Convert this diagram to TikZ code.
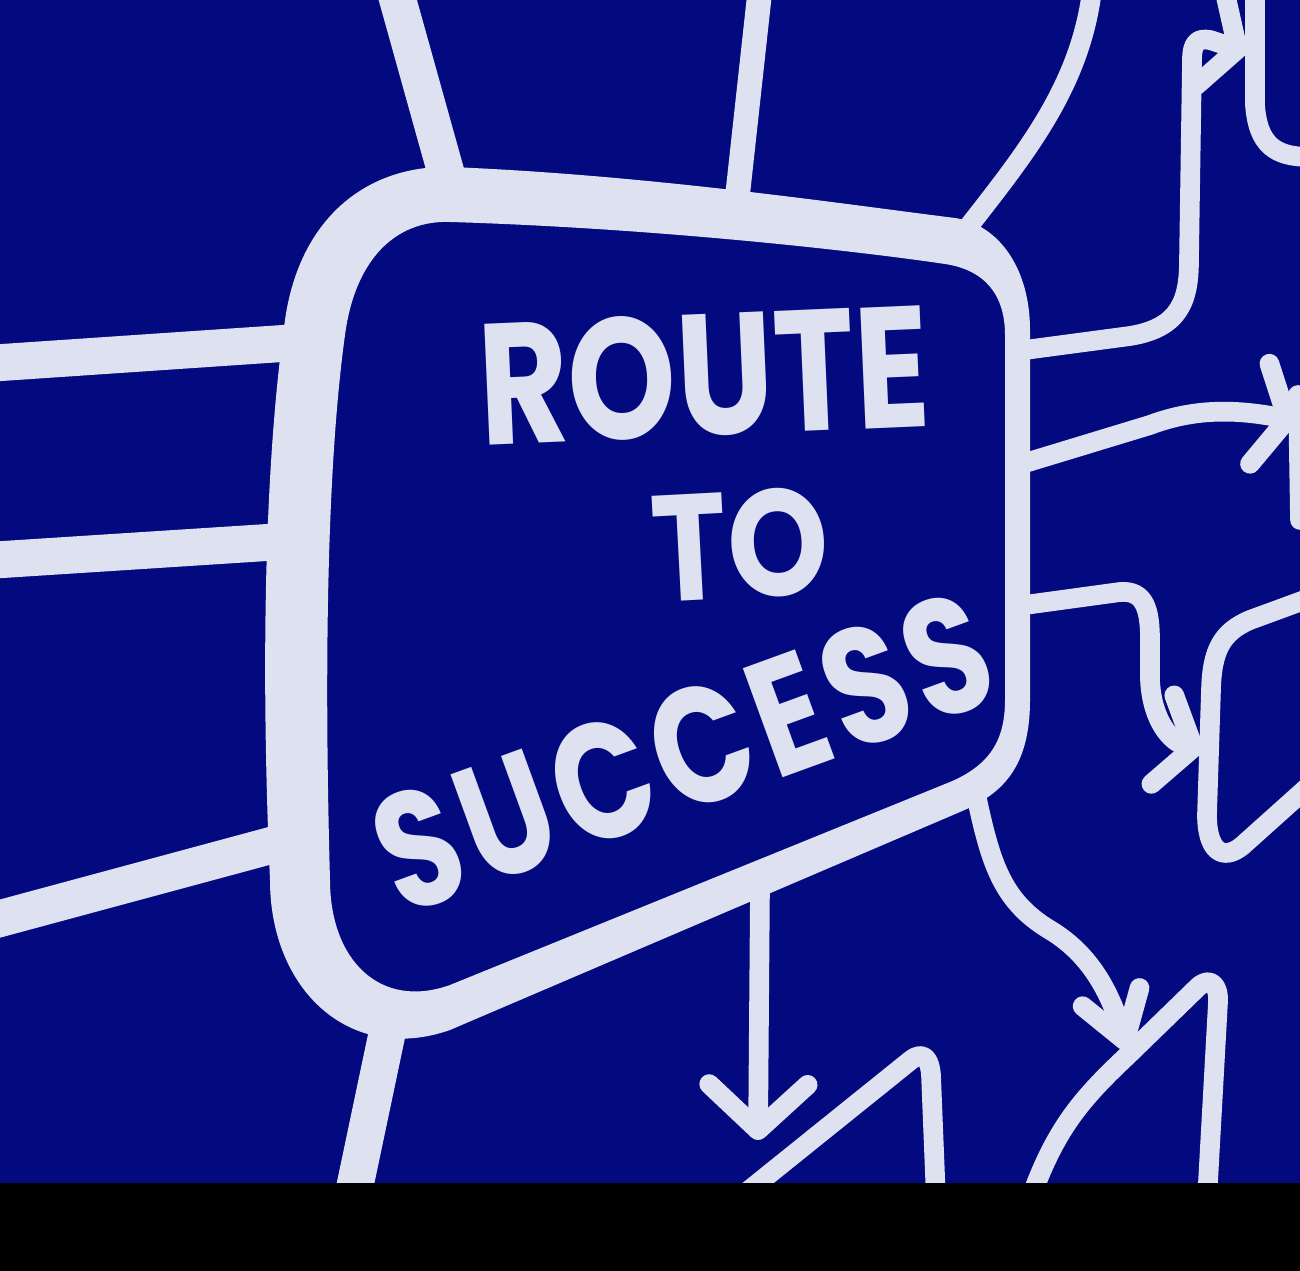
\documentclass[tikz,border=0pt]{standalone}
\usepackage{fontspec}
\newfontfamily\markerfont{Poppins}
\usetikzlibrary{arrows.meta, calc, positioning}
\definecolor{boardblue}{RGB}{3,10,127}
\definecolor{chalkwhite}{RGB}{222,225,240}
\tikzset{
	chalk/.style = {draw=chalkwhite, line cap=round, line join=round},
	spoke/.style = {chalk, line width=10.5pt},
	stem/.style = {chalk, line width=7pt},
	twig/.style = {chalk, line width=5.6pt},
	arr/.style 2 args = {twig, -{Straight Barb[length=#1, width=#2, round]}},
	word/.style = {text=chalkwhite, inner sep=0pt}
}

\begin{document}
\begin{tikzpicture}[x=0.01cm, y=-0.01cm]
	\useasboundingbox (0,0) rectangle (1300,1271);
	\fill[boardblue] (0,0) rectangle (1300,1183);
	\fill[black] (0,1183) rectangle (1300,1271);
	\clip (0,0) rectangle (1300,1183);

	% points on the box
	\coordinate (bW1) at (290,343);
	\coordinate (bW2) at (275,542);
	\coordinate (bW3) at (280,843);
	\coordinate (bS1) at (392,1010);
	\coordinate (bS2) at (760,885);
	\coordinate (bSE) at (975,790);
	\coordinate (bN1) at (448,180);
	\coordinate (bN2) at (737,200);
	\coordinate (bNE) at (962,235);
	\coordinate (bE1) at (1025,350);
	\coordinate (bE2) at (1025,463);
	\coordinate (bE3) at (1025,605);

	% free ends and arrow tips
	\coordinate (eW1) at (-20,364);
	\coordinate (eW2) at (-20,561);
	\coordinate (eW3) at (-20,924);
	\coordinate (eS1) at (352,1200);
	\coordinate (eN1) at (395,-10);
	\coordinate (eN2) at (760,-10);
	\coordinate (eNE) at (1092,-10);
	\coordinate (tipD) at (1247,52);
	\coordinate (tipE) at (1297,421);
	\coordinate (tipF) at (1203,750);
	\coordinate (tipG) at (1128,1050);
	\coordinate (tipH) at (758,1140);

	% plain spokes
	\draw[spoke] (bW1) -- (eW1);
	\draw[spoke] (bW2) -- (eW2);
	\draw[spoke] (bW3) -- (eW3);
	\draw[spoke] (bS1) -- (eS1);
	\draw[spoke] (bN1) -- (eN1);
	\draw[stem] (bN2) -- (eN2);
	\draw[twig] (bNE) .. controls (1020,160) and (1080,90) .. (eNE);

	% Central box
	\fill[chalkwhite, even odd rule]
		(270,880) .. controls (262,700) and (262,480) .. (285,320)
		.. controls (300,215) and (370,165) .. (450,167)
		.. controls (650,175) and (850,205) .. (955,218)
		.. controls (1000,225) and (1030,270) .. (1030,330)
		-- (1030,700) .. controls (1030,770) and (1000,795) .. (960,812)
		-- (450,1030) .. controls (350,1065) and (270,990) .. (270,880) -- cycle
		(330,880) .. controls (325,700) and (325,480) .. (345,335)
		.. controls (355,260) and (395,220) .. (450,222)
		.. controls (650,228) and (850,250) .. (945,264)
		.. controls (985,270) and (1005,295) .. (1005,335)
		-- (1005,700) .. controls (1005,740) and (990,765) .. (950,782)
		-- (450,985) .. controls (380,1010) and (330,960) .. (330,880) -- cycle;

	\node[word, font=\markerfont\bfseries\fontsize{49}{49}\selectfont, rotate=2.5, xscale=0.8] (route) at (704,375) {ROUTE};
	\node[word, font=\markerfont\bfseries\fontsize{43}{43}\selectfont, rotate=3, xscale=0.85] (to) at (740,545) {TO};
	\node[word, font=\markerfont\bfseries\fontsize{47}{47}\selectfont\addfontfeature{LetterSpace=6}, rotate=20, xscale=0.78] (success) at (683,752) {SUCCESS};

	% Directed edges
	\draw[arr={8pt}{27pt}] (bE1) -- (1130,336) .. controls (1180,328) and (1189,300) .. (1189,260)
		-- (1192,60) .. controls (1192,42) and (1198,38) .. (1210,40) -- (tipD);
	\draw[arr={8pt}{29pt}] (bE2) -- (1150,425) .. controls (1190,410) and (1230,408) .. (tipE);
	\draw[arr={9pt}{26pt}] (bE3) -- (1120,592) .. controls (1145,590) and (1150,610) .. (1150,640)
		-- (1150,680) .. controls (1152,722) and (1172,742) .. (tipF);
	\draw[arr={13pt}{17pt}] (bSE) .. controls (990,860) and (1000,900) .. (1050,930)
		.. controls (1095,957) and (1112,1000) .. (tipG);
	\draw[arr={13pt}{28pt}] (bS2) -- (tipH);

	% target boxes
	\draw[twig] (1255,-10) -- (1255,105) .. controls (1258,145) and (1275,157) .. (1310,157);
	\draw[twig] (1298,395) -- (1300,520);
	\draw[twig] (1310,598) -- (1250,620) .. controls (1222,632) and (1212,650) .. (1211,690)
		-- (1207,815) .. controls (1207,850) and (1222,862) .. (1242,846) -- (1310,785);
	\draw[twig] (1030,1200) .. controls (1055,1130) and (1080,1100) .. (1128,1055)
		-- (1198,987) .. controls (1210,976) and (1219,985) .. (1218,1002) -- (1207,1200);
	\draw[twig] (737,1200) -- (911,1060) .. controls (924,1050) and (930,1060) .. (931,1075) -- (936,1200);
\end{tikzpicture}
\end{document}
